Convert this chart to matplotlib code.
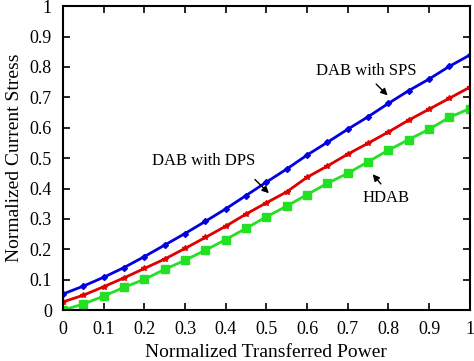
import matplotlib
matplotlib.use('Agg')
import matplotlib.pyplot as plt

# normalized transferred power
power = [0, 0.05, 0.1, 0.15, 0.2, 0.25, 0.3, 0.35, 0.4, 0.45, 0.5,
         0.55, 0.6, 0.65, 0.7, 0.75, 0.8, 0.85, 0.9, 0.95, 1.0]

# normalized current stress
sps = [0.053, 0.079, 0.108, 0.140, 0.176, 0.214, 0.252, 0.292, 0.333, 0.377, 0.421,
       0.464, 0.510, 0.552, 0.595, 0.636, 0.680, 0.722, 0.760, 0.802, 0.839]
dps = [0.027, 0.049, 0.077, 0.106, 0.137, 0.168, 0.203, 0.239, 0.276, 0.316, 0.353,
       0.389, 0.437, 0.474, 0.513, 0.549, 0.586, 0.625, 0.661, 0.697, 0.733]
hdab = [0.0, 0.020, 0.046, 0.075, 0.101, 0.134, 0.164, 0.197, 0.232, 0.269, 0.307,
        0.342, 0.380, 0.417, 0.450, 0.488, 0.526, 0.561, 0.595, 0.634, 0.663]

xticks = [0, 0.1, 0.2, 0.3, 0.4, 0.5, 0.6, 0.7, 0.8, 0.9, 1]
xtick_labels = ['0', '0.1', '0.2', '0.3', '0.4', '0.5', '0.6', '0.7', '0.8', '0.9', '1']
yticks = [0, 0.1, 0.2, 0.3, 0.4, 0.5, 0.6, 0.7, 0.8, 0.9, 1]
ytick_labels = ['0', '0.1', '0.2', '0.3', '0.4', '0.5', '0.6', '0.7', '0.8', '0.9', '1']

plt.rcParams['font.family'] = ['Liberation Serif', 'DejaVu Serif']
same_font = 13

fig = plt.figure(figsize=(4.74, 3.61), dpi=100, facecolor='w')
ax = fig.add_axes([0.133, 0.141, 0.858, 0.842])

ax.plot(power, sps, '-D', color='#0000e0', linewidth=2, markersize=3)
ax.plot(power, dps, '-*', color='#e00000', linewidth=2, markersize=4)
ax.plot(power, hdab, '-s', color='#22e022', linewidth=2, markersize=6)

ax.set_xlim(0, 1)
ax.set_ylim(0, 1)
ax.set_xticks(xticks)
ax.set_xticklabels(xtick_labels)
ax.set_yticks(yticks)
ax.set_yticklabels(ytick_labels)
ax.tick_params(direction='in', top=True, right=True, length=5, width=1.2,
               labelsize=same_font, pad=8)
for s in ax.spines.values():
    s.set_linewidth(1.5)

ax.set_xlabel('Normalized Transferred Power', fontsize=same_font + 1, labelpad=4)
ax.set_ylabel('Normalized Current Stress', fontsize=same_font + 1, labelpad=5)

arrow = dict(arrowstyle='-|>', color='k', lw=1, mutation_scale=10)
ax.text(0.745, 0.786, 'DAB with SPS', ha='center', va='center', fontsize=same_font - 1)
ax.annotate('', xy=(0.803, 0.70), xytext=(0.765, 0.750), arrowprops=arrow)
ax.text(0.345, 0.492, 'DAB with DPS', ha='center', va='center', fontsize=same_font - 1)
ax.annotate('', xy=(0.511, 0.378), xytext=(0.467, 0.436), arrowprops=arrow)
ax.text(0.794, 0.370, 'HDAB', ha='center', va='center', fontsize=same_font - 1)
ax.annotate('', xy=(0.757, 0.454), xytext=(0.786, 0.408), arrowprops=arrow)

fig.savefig('out.png', dpi=100)
